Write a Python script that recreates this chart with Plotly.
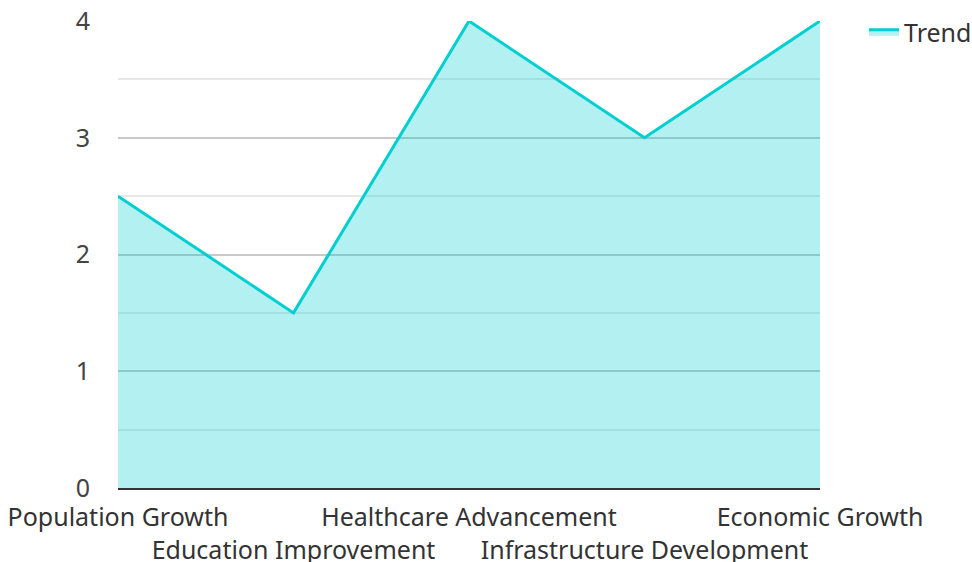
import plotly.graph_objects as go

categories = ["Population Growth", "Education Improvement", "Healthcare Advancement",
              "Infrastructure Development", "Economic Growth"]
values = [2.5, 1.5, 4, 3, 4]
series_name = "Trend"

tick_text = [c if i % 2 == 0 else "<br>" + c for i, c in enumerate(categories)]

fig = go.Figure()
fig.add_trace(go.Scatter(
    x=list(range(len(categories))), y=values, name=series_name,
    mode="lines", fill="tozeroy",
    line=dict(color="#00CED1", width=3),
    fillcolor="rgba(0,206,209,0.3)",
    showlegend=True,
))

font_family = "Noto Sans, Open Sans, sans-serif"
fig.update_layout(
    width=972, height=562,
    margin=dict(l=118, r=152, t=21, b=74),
    paper_bgcolor="white", plot_bgcolor="white",
    font=dict(family=font_family, size=25, color="#444"),
    xaxis=dict(
        tickmode="array", tickvals=list(range(len(categories))), ticktext=tick_text,
        range=[0, len(categories) - 1], showgrid=False, zeroline=False,
        showline=True, linecolor="#333", linewidth=2,
        ticks="outside", ticklen=6, tickcolor="rgba(0,0,0,0)",
        tickangle=0, automargin=False,
        tickfont=dict(size=25, color="#333"),
    ),
    yaxis=dict(
        range=[0, 4], dtick=1, showgrid=True, gridcolor="#c8c8c8", gridwidth=1.5,
        zeroline=False, showline=False, automargin=False,
        ticks="outside", ticklen=22, tickcolor="rgba(0,0,0,0)",
        tickfont=dict(size=25, color="#444"),
        minor=dict(dtick=0.5, showgrid=True, gridcolor="#e8e8e8", gridwidth=1.5),
    ),
    legend=dict(xref="container", yref="container", x=864 / 972, y=1 - 9 / 562,
                xanchor="left", yanchor="top",
                font=dict(size=25, color="#333"), bgcolor="rgba(0,0,0,0)"),
)

fig.write_html("out.html", config={"displayModeBar": False},
               post_script="document.body.style.margin='0';")
